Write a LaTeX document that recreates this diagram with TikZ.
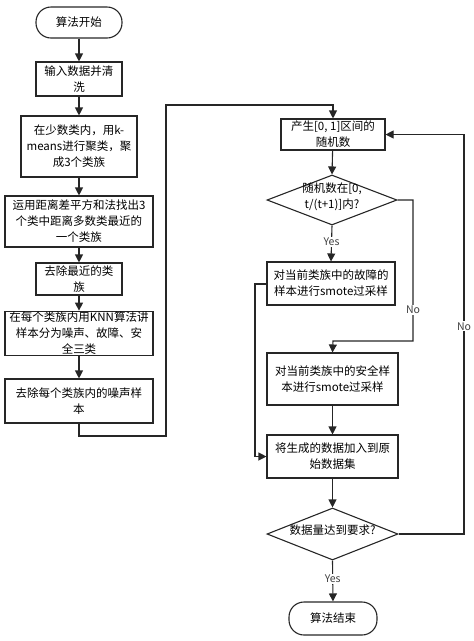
\documentclass[tikz,border=0pt]{standalone}
\usepackage{fontspec}
\setmainfont{Noto Sans CJK SC}
\usetikzlibrary{shapes.geometric,arrows.meta}
\tikzset{
  box/.style={draw=black!85, line width=1.1pt, align=center, inner sep=1pt, font=\fontsize{11.5}{16}\selectfont},
  term/.style={box, rounded corners=15pt},
  dia/.style={draw=black!85, line width=1.1pt, diamond, inner sep=0pt, font=\fontsize{11.5}{16}\selectfont},
  arr/.style={draw=black!85, line width=1.1pt, -{Triangle[length=8pt,width=8pt]}},
  ln/.style={draw=black!85, line width=1.1pt},
  lab/.style={fill=white, inner sep=1pt, font=\fontsize{10.5}{12}\selectfont, text=black!75}
}
\newcommand{\dtext}[1]{\smash{\makebox[0pt]{\begin{tabular}{@{}c@{}}#1\end{tabular}}}}
\begin{document}
\begin{tikzpicture}[x=1pt,y=-1pt]
\useasboundingbox (0,0) rectangle (474,641);
% left column
\node[term, minimum width=86pt, minimum height=31pt] (start) at (79,22.5) {算法开始};
\node[box, minimum width=86pt, minimum height=34pt] (b2) at (79,79) {输入数据并清\\洗};
\node[box, minimum width=116pt, minimum height=61pt] (b3) at (79,146.5) {在少数类内，用k-\\means进行聚类，聚\\成3个类族};
\node[box, minimum width=148pt, minimum height=51pt] (b4) at (79,221.5) {运用距离差平方和法找出3\\个类中距离多数类最近的\\一个类族};
\node[box, minimum width=86pt, minimum height=32pt] (b5) at (79,279) {去除最近的类\\族};
\node[box, minimum width=148pt, minimum height=43pt] (b6) at (79,333.5) {在每个类族内用KNN算法讲\\样本分为噪声、故障、安\\全三类};
\node[box, minimum width=148pt, minimum height=44pt] (b7) at (79,401) {去除每个类族内的噪声样\\本};
% right column
\node[box, minimum width=104pt, minimum height=31pt] (r1) at (333,134.5) {产生[0, 1]区间的\\随机数};
\node[dia, minimum width=130pt, minimum height=50pt] (d1) at (332,200) {\dtext{随机数在[0,\\t/(t+1)]内?}};
\node[box, minimum width=128pt, minimum height=43pt] (r2) at (331,283.5) {对当前类族中的故障的\\样本进行smote过采样};
\node[box, minimum width=131pt, minimum height=52pt] (r3) at (332.5,379) {对当前类族中的安全样\\本进行smote过采样};
\node[box, minimum width=131pt, minimum height=43pt] (r4) at (332.5,456.5) {将生成的数据加入到原\\始数据集};
\node[dia, minimum width=131pt, minimum height=52pt] (d2) at (332.5,534) {\dtext{数据量达到要求?}};
\node[term, minimum width=88pt, minimum height=33pt] (end) at (333,618.5) {算法结束};
% coordinates
\coordinate (c1) at (79,436);
\coordinate (c2) at (166,105);
\coordinate (c3) at (413,200);
\coordinate (c4) at (333,341);
\coordinate (c5) at (255,284);
\coordinate (c6) at (464,534);
% connectors
\draw[arr] (start) -- (b2);
\draw[arr] (b2) -- (b3);
\draw[arr] (b3) -- (b4);
\draw[arr] (b4) -- (b5);
\draw[arr] (b5) -- (b6);
\draw[arr] (b6) -- (b7);
\draw[arr] (b7.south) -- (c1) -| (c2) -| (r1.north);
\draw[arr] (r1) -- (d1.north);
\draw[arr] (d1.south) -- node[lab, pos=0.45] {Yes} (r2.north);
\draw[arr] (d1.east) -- (c3) |- node[lab, pos=0.39] {No} (c4) -- (r3.north);
\draw[arr] (r2.west |- c5) -- (c5) |- (r4.west);
\draw[arr] (r3) -- (r4);
\draw[arr] (r4) -- (d2.north);
\draw[arr] (d2.south) -- node[lab, pos=0.45] {Yes} (end.north);
\draw[arr] (d2.east) -- (c6) |- node[lab, pos=0.26] {No} (r1.east);
\end{tikzpicture}
\end{document}
